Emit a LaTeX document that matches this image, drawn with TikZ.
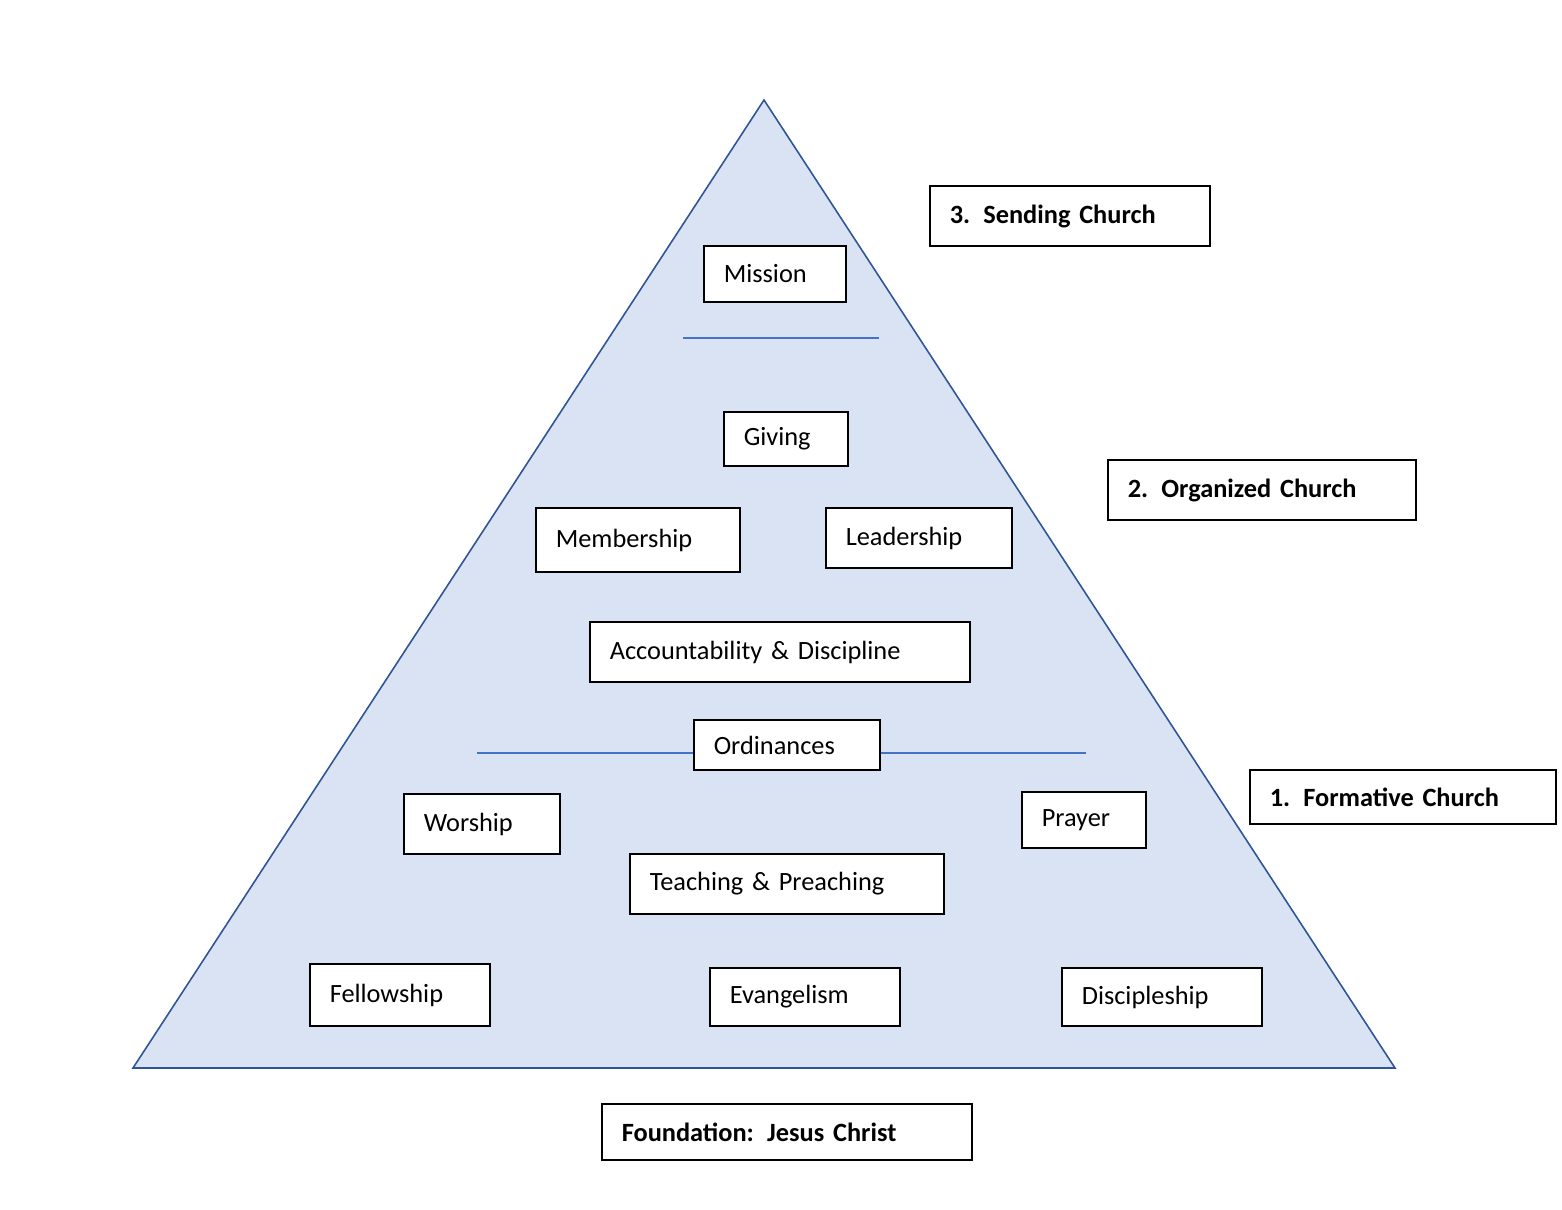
\documentclass[tikz,border=0pt]{standalone}
\usepackage{fontspec}
\setmainfont{Carlito}
\usetikzlibrary{positioning}
\definecolor{pyrfill}{HTML}{DAE3F3}
\definecolor{pyredge}{HTML}{2F5597}
\definecolor{divline}{HTML}{4472C4}
\tikzset{
  box/.style={draw=black, fill=white, line width=0.9pt, anchor=west, align=left,
    inner xsep=0.4cm, inner ysep=0pt, font=\fontsize{15}{18}\selectfont},
  stage/.style={box, font=\fontsize{15}{18}\selectfont\bfseries},
}
\begin{document}
\begin{tikzpicture}[x=0.02cm, y=-0.02cm]
    \useasboundingbox (0,0) rectangle (1562,1210);
    % pyramid
    \draw[fill=pyrfill, draw=pyredge, line width=0.9pt] (764,100) -- (133,1068) -- (1395,1068) -- cycle;
    \draw[divline, line width=0.8pt] (683,338) -- (879,338);
    \draw[divline, line width=0.8pt] (477,753) -- (1086,753);
    % top level
    \node[box, text width=2.04cm, minimum height=1.12cm] (mission) at (703,274) {Mission};
    % middle level
    \node[box, text width=1.68cm, minimum height=1.08cm] (giving) at (723,439) {Giving};
    \node[box, text width=3.28cm, minimum height=1.28cm] (membership) at (535,540) {Membership};
    \node[box, text width=2.92cm, minimum height=1.2cm] (leadership) at (825,538) {Leadership};
    \node[box, text width=6.8cm, minimum height=1.2cm] (accountability) at (589,652) {Accountability \& Discipline};
    \node[box, text width=2.92cm, minimum height=1.0cm] (ordinances) at (693,745) {Ordinances};
    % bottom level
    \node[box, text width=2.32cm, minimum height=1.2cm] (worship) at (403,824) {Worship};
    \node[box, text width=1.68cm, minimum height=1.12cm] (prayer) at (1021,820) {Prayer};
    \node[box, text width=5.48cm, minimum height=1.2cm] (teaching) at (629,884) {Teaching \& Preaching};
    \node[box, text width=2.8cm, minimum height=1.24cm] (fellowship) at (309,995) {Fellowship};
    \node[box, text width=3.0cm, minimum height=1.16cm] (evangelism) at (709,997) {Evangelism};
    \node[box, text width=3.2cm, minimum height=1.16cm] (discipleship) at (1061,997) {Discipleship};
    % stages
    \node[stage, text width=4.8cm, minimum height=1.2cm] (sending) at (929,216) {3. Sending Church};
    \node[stage, text width=5.36cm, minimum height=1.2cm] (organized) at (1107,490) {2. Organized Church};
    \node[stage, text width=5.32cm, minimum height=1.08cm] (formative) at (1249,797) {1. Formative Church};
    \node[stage, text width=6.6cm, minimum height=1.12cm] (foundation) at (601,1132) {Foundation: Jesus Christ};
\end{tikzpicture}
\end{document}
